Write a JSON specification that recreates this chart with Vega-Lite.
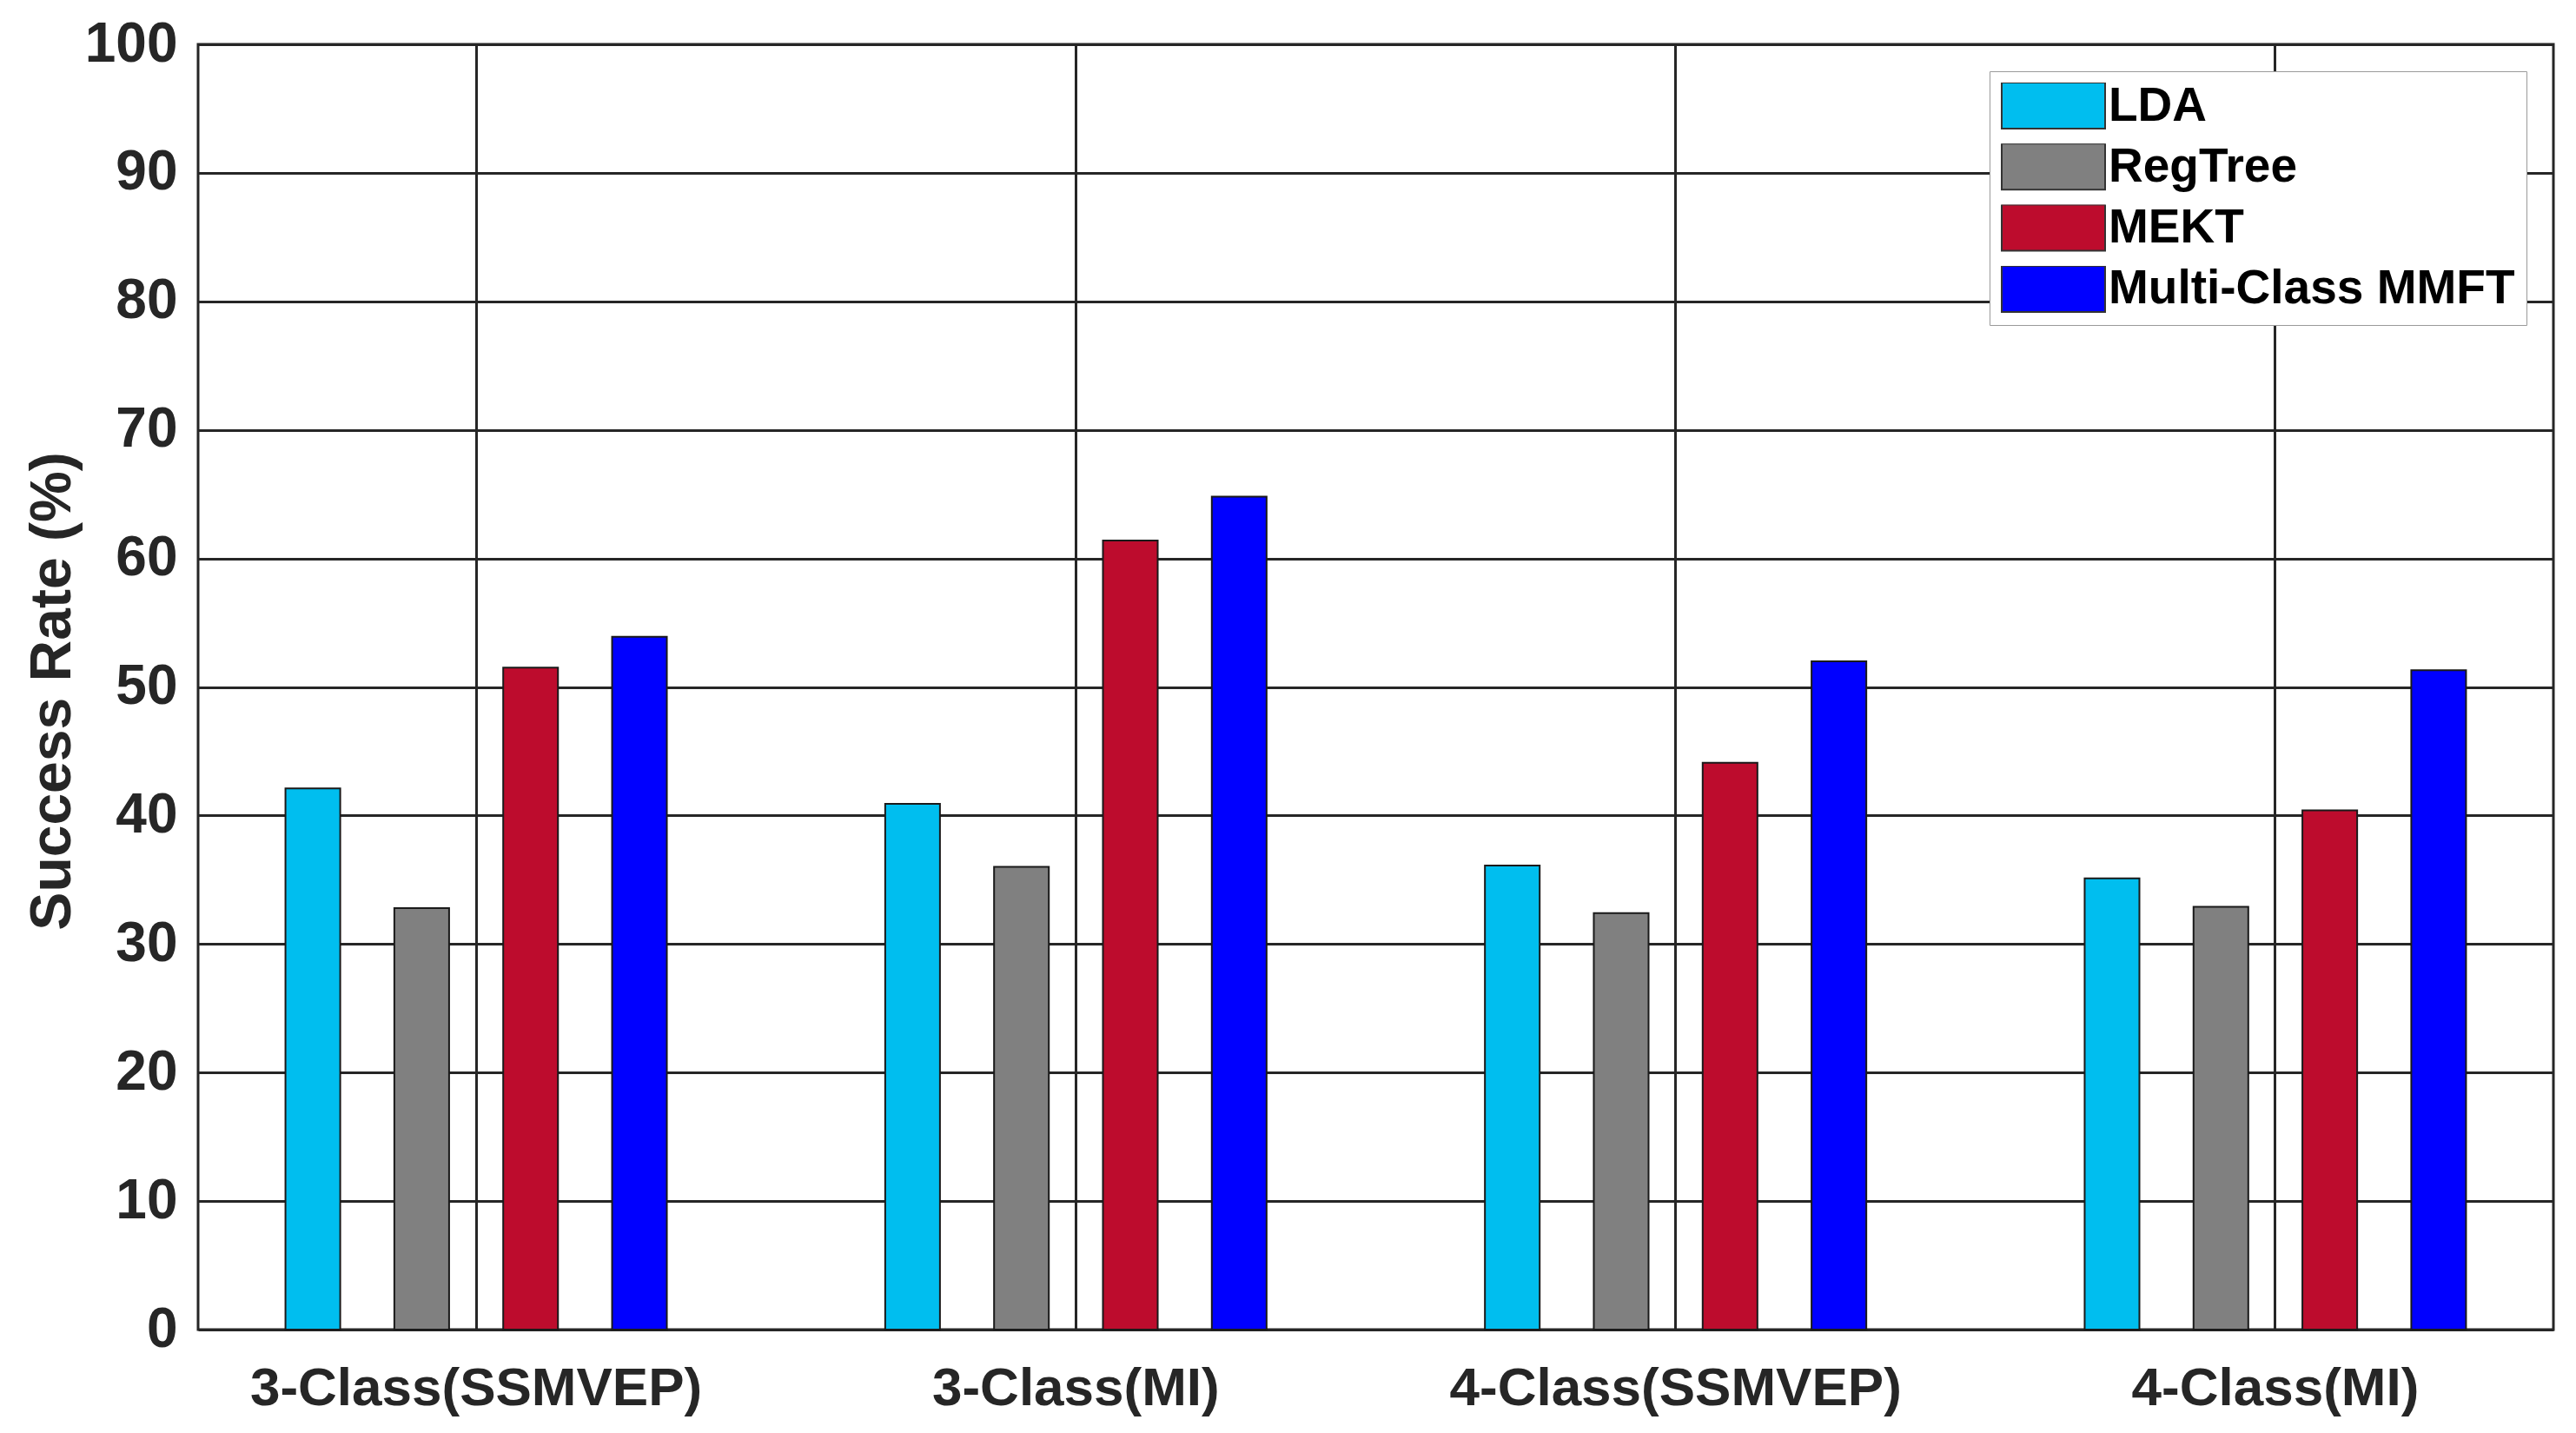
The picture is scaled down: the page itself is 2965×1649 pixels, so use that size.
{
  "$schema": "https://vega.github.io/schema/vega-lite/v6.json",
  "autosize": "none",
  "width": 2711,
  "height": 1479,
  "padding": {"left": 228, "top": 51, "right": 26, "bottom": 119},
  "background": "white",
  "config": {
    "view": {"stroke": "#262626", "strokeWidth": 3},
    "font": "Liberation Sans"
  },
  "data": {
    "values": [
      {"condition": "3-Class(SSMVEP)", "method": "LDA", "rate": 42.1},
      {"condition": "3-Class(SSMVEP)", "method": "RegTree", "rate": 32.8},
      {"condition": "3-Class(SSMVEP)", "method": "MEKT", "rate": 51.5},
      {"condition": "3-Class(SSMVEP)", "method": "Multi-Class MMFT", "rate": 53.9},
      {"condition": "3-Class(MI)", "method": "LDA", "rate": 40.9},
      {"condition": "3-Class(MI)", "method": "RegTree", "rate": 36.0},
      {"condition": "3-Class(MI)", "method": "MEKT", "rate": 61.4},
      {"condition": "3-Class(MI)", "method": "Multi-Class MMFT", "rate": 64.8},
      {"condition": "4-Class(SSMVEP)", "method": "LDA", "rate": 36.1},
      {"condition": "4-Class(SSMVEP)", "method": "RegTree", "rate": 32.4},
      {"condition": "4-Class(SSMVEP)", "method": "MEKT", "rate": 44.1},
      {"condition": "4-Class(SSMVEP)", "method": "Multi-Class MMFT", "rate": 52.0},
      {"condition": "4-Class(MI)", "method": "LDA", "rate": 35.1},
      {"condition": "4-Class(MI)", "method": "RegTree", "rate": 32.9},
      {"condition": "4-Class(MI)", "method": "MEKT", "rate": 40.4},
      {"condition": "4-Class(MI)", "method": "Multi-Class MMFT", "rate": 51.3}
    ]
  },
  "mark": {"type": "bar", "stroke": "#1a1a1a", "strokeWidth": 2},
  "encoding": {
    "x": {
      "field": "condition",
      "type": "nominal",
      "sort": ["3-Class(SSMVEP)", "3-Class(MI)", "4-Class(SSMVEP)", "4-Class(MI)"],
      "scale": {"paddingInner": 0.0727, "paddingOuter": 0},
      "axis": {
        "title": null,
        "labelAngle": 0,
        "labelFont": "Liberation Sans",
        "labelFontWeight": "bold",
        "labelFontSize": 62,
        "labelColor": "#262626",
        "labelPadding": 37,
        "labelLimit": 2000,
        "ticks": false,
        "domain": false,
        "grid": true,
        "bandPosition": 0.5,
        "gridColor": "#262626",
        "gridWidth": 3,
        "gridOpacity": 1
      }
    },
    "xOffset": {
      "field": "method",
      "type": "nominal",
      "sort": ["LDA", "RegTree", "MEKT", "Multi-Class MMFT"],
      "scale": {"paddingInner": 0.497, "paddingOuter": 0.8025}
    },
    "y": {
      "field": "rate",
      "type": "quantitative",
      "title": "Success Rate (%)",
      "scale": {"domain": [0, 100], "nice": false},
      "axis": {
        "values": [0, 10, 20, 30, 40, 50, 60, 70, 80, 90, 100],
        "labelFont": "Liberation Sans",
        "labelFontWeight": "bold",
        "labelFontSize": 64,
        "labelColor": "#262626",
        "labelPadding": 24,
        "ticks": false,
        "domain": false,
        "grid": true,
        "gridColor": "#262626",
        "gridWidth": 3,
        "gridOpacity": 1,
        "titleFont": "Liberation Sans",
        "titleFontWeight": "bold",
        "titleFontSize": 66,
        "titleColor": "#262626",
        "titleX": -168,
        "titleY": 744,
        "titleAngle": -90,
        "titleAlign": "center",
        "titleBaseline": "middle"
      }
    },
    "color": {
      "field": "method",
      "type": "nominal",
      "sort": ["LDA", "RegTree", "MEKT", "Multi-Class MMFT"],
      "scale": {
        "domain": ["LDA", "RegTree", "MEKT", "Multi-Class MMFT"],
        "range": ["#00BEEF", "#808080", "#BD0C2D", "#0000FF"]
      },
      "legend": {
        "title": null,
        "orient": "none",
        "legendX": 2062,
        "legendY": 31,
        "direction": "vertical",
        "fillColor": "white",
        "strokeColor": "#9a9a9a",
        "padding": 13,
        "symbolType": "M-1,-0.445H1V0.445H-1Z",
        "symbolSize": 14161,
        "symbolStrokeColor": "#333333",
        "symbolStrokeWidth": 2,
        "symbolOpacity": 1,
        "clipHeight": 53,
        "rowPadding": 14.3,
        "labelOffset": 3,
        "labelFont": "Liberation Sans",
        "labelFontSize": 55,
        "labelFontWeight": "bold",
        "labelColor": "black",
        "labelLimit": 2000
      }
    }
  }
}
